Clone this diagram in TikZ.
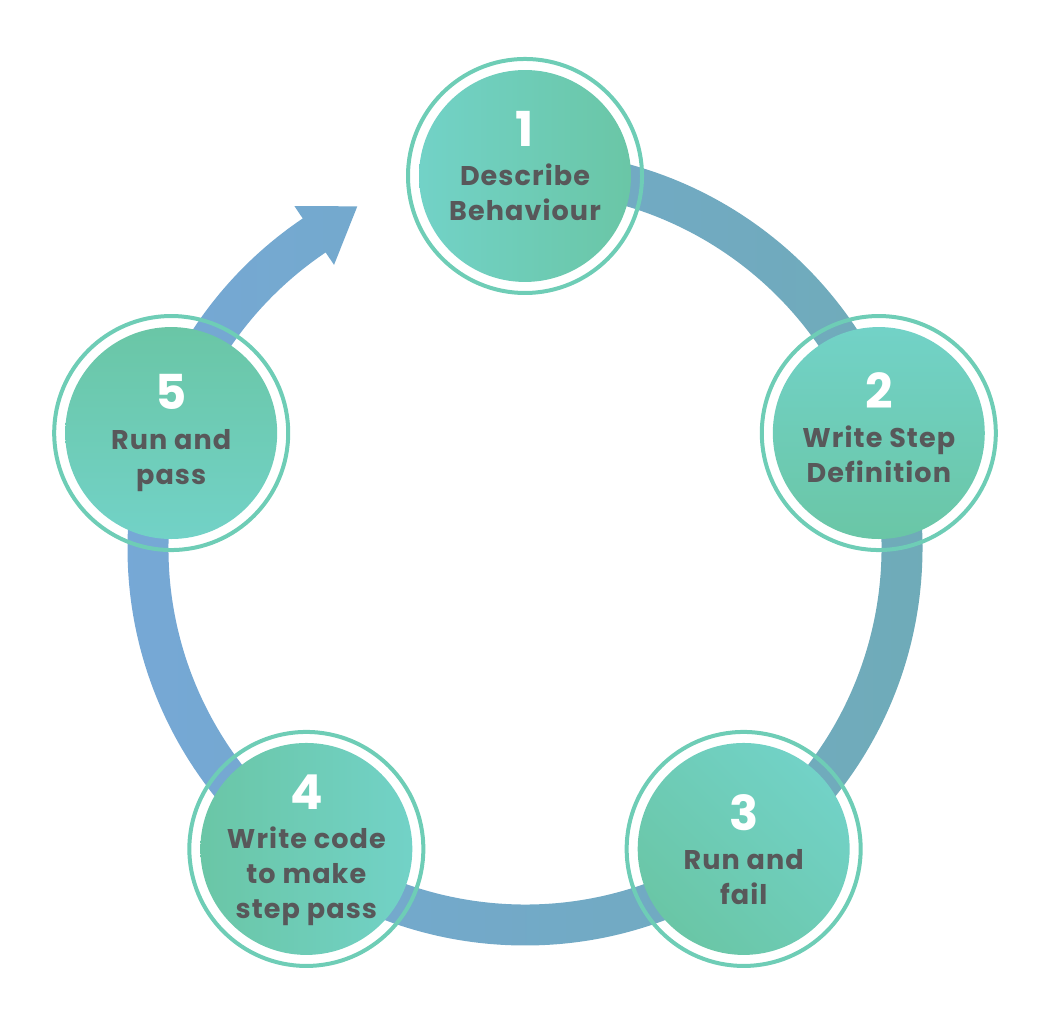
\documentclass[tikz,border=0pt]{standalone}
\usepackage{fontspec}
\setmainfont{Poppins}[LetterSpace=4]
\usetikzlibrary{positioning,calc}

\definecolor{stepteal}{HTML}{72D2C7}
\definecolor{stepgreen}{HTML}{6AC6A6}
\definecolor{ringgreen}{HTML}{6ECDB6}
\definecolor{stepgray}{HTML}{58585A}
\definecolor{bandleft}{HTML}{76A8D6}
\definecolor{bandright}{HTML}{6FABB8}

\newcommand{\stepnum}[1]{{\fontsize{27.4}{30}\selectfont\color{white}#1}\\[2.4pt]}

\tikzset{
  stepcircle/.style={circle, inner sep=0pt, minimum size=4.24cm,
    top color=stepteal, bottom color=stepgreen, shading angle=#1},
  steptext/.style={text=stepgray, align=center, inner sep=0pt,
    font=\bfseries\fontsize{15.4}{19.9}\selectfont},
  stepring/.style={draw=ringgreen, line width=0.08cm},
  band/.style={left color=bandleft, right color=bandright}
}

\begin{document}
\begin{tikzpicture}[x=0.02cm, y=0.02cm]
  \useasboundingbox (0,0) rectangle (1050,1026);
  \begin{scope}[shift={(525,478)}]
    % the cycle band with its arrow head
    \path[band] (88:397.5) arc[start angle=88, end angle=-236, radius=397.5]
      -- (124:412.5) -- ($(124:377)+(34:52)$) -- (124:341.5) -- (124:356.5)
      arc[start angle=-236, end angle=88, radius=356.5] -- cycle;

    % steps
    \node[stepcircle=90]  (s1) at (90:372)   {};
    \node[stepcircle=0]   (s2) at (18:372)   {};
    \node[stepcircle=-45] (s3) at (-54:372)  {};
    \node[stepcircle=-90] (s4) at (-126:372) {};
    \node[stepcircle=180] (s5) at (162:372)  {};

    \foreach \i in {1,...,5}
      \draw[stepring] (s\i.center) circle[radius=117];

    % texts
    \node[steptext] (t1) at ([yshift=0.2cm]s1.center) {\stepnum{1}Describe\\Behaviour};
    \node[steptext] (t2) at ([yshift=0.1cm]s2.center) {\stepnum{2}Write Step\\Definition};
    \node[steptext] (t3) at ([yshift=-0.02cm]s3.center) {\stepnum{3}Run and\\fail};
    \node[steptext] (t4) at ([yshift=-0.02cm]s4.center) {\stepnum{4}Write code\\to make\\step pass};
    \node[steptext] (t5) at (s5.center) {\stepnum{5}Run and\\pass};
  \end{scope}
\end{tikzpicture}
\end{document}
